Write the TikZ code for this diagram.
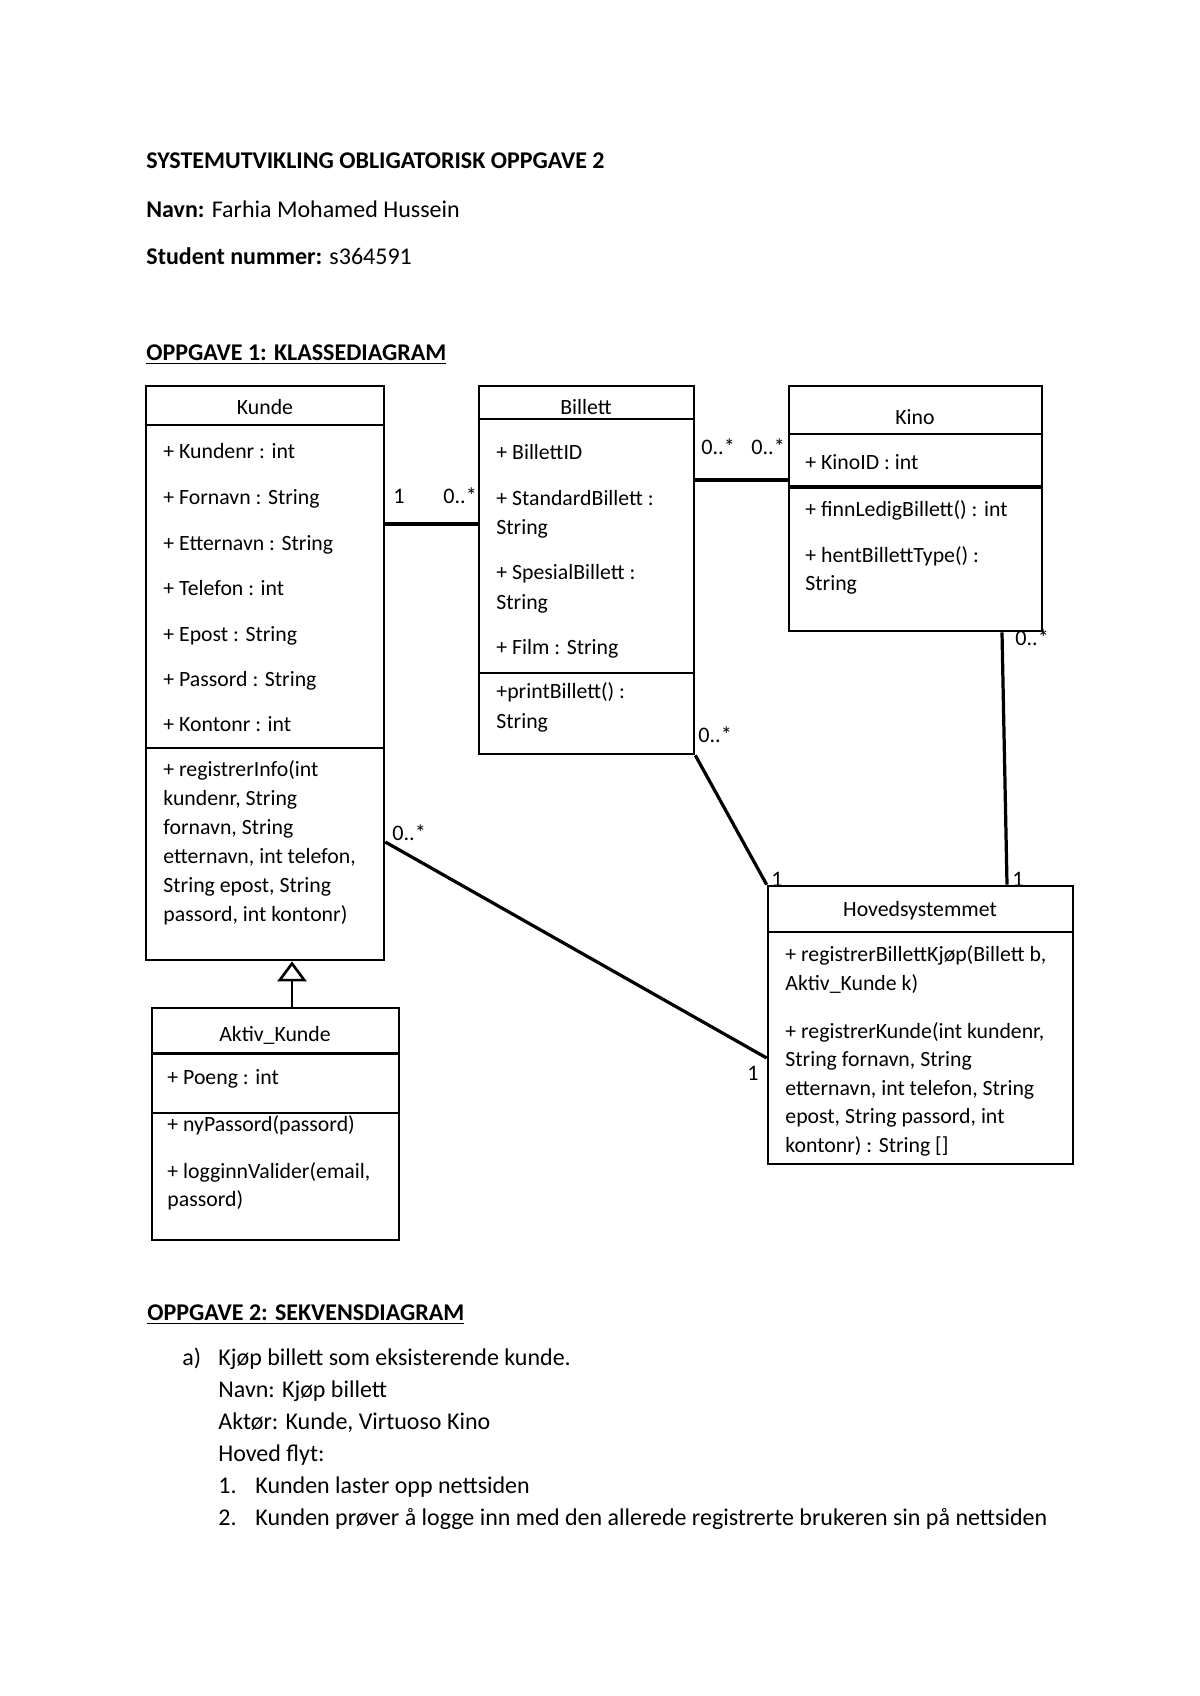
\documentclass[tikz,border=0pt]{standalone}
\usepackage{fontspec}
\setmainfont{Carlito}
\usetikzlibrary{arrows.meta,fit}
\begin{document}
\begin{tikzpicture}[x=0.49607pt,y=-0.49607pt,
  classbox/.style={draw,line width=1.3pt,inner sep=0pt},
  sepline/.style={line width=1pt},
  thicksep/.style={line width=1.5pt},
  attr/.style={anchor=base west,inner sep=0pt,font=\fontsize{10.8}{13}\selectfont},
  ctitle/.style={anchor=base,inner sep=0pt,font=\fontsize{10.8}{13}\selectfont},
  mult/.style={anchor=base west,inner sep=0pt,font=\fontsize{11}{13}\selectfont},
  assoc/.style={line width=1.6pt},
  gen/.style={line width=1.3pt,-{Triangle[open,length=10pt,width=14.5pt,line width=1.3pt]}},
  head/.style={anchor=base west,inner sep=0pt,font=\fontsize{11.9}{14}\selectfont}]
\fill[white] (0,0) rectangle (1200,1696);
\useasboundingbox (0,0) rectangle (1200,1696);

% header texts
\node[head] (title) at (146,168) {\textbf{SYSTEMUTVIKLING OBLIGATORISK OPPGAVE 2}};
\node[head] (navn) at (146,217) {\textbf{Navn:} Farhia Mohamed Hussein};
\node[head] (stud) at (146,264) {\textbf{Student nummer:} s364591};
\node[head] (opp1) at (146,360) {\textbf{\underline{OPPGAVE 1: KLASSEDIAGRAM}}};

% Kunde
\node[classbox,fit={(146,386) (384,960)}] (kunde) {};
\draw[sepline] (kunde.west |- 0,425) -- (kunde.east |- 0,425);
\draw[sepline] (kunde.west |- 0,748) -- (kunde.east |- 0,748);
\node[ctitle] (kundeT) at (265,414) {Kunde};
\foreach \t/\y [count=\i] in {{+ Kundenr : int}/458,{+ Fornavn : String}/504,{+ Etternavn : String}/550,{+ Telefon : int}/595,{+ Epost : String}/641,{+ Passord : String}/686,{+ Kontonr : int}/731,{+ registrerInfo(int}/776,{kundenr, String}/805,{fornavn, String}/834,{etternavn, int telefon,}/863,{String epost, String}/892,{passord, int kontonr)}/921}
  \node[attr] (ka\i) at (163,\y) {\t};

% Billett
\node[classbox,fit={(479,386) (694,754)}] (billett) {};
\draw[sepline] (billett.west |- 0,419) -- (billett.east |- 0,419);
\draw[sepline] (billett.west |- 0,673) -- (billett.east |- 0,673);
\node[ctitle] (billettT) at (586,414) {Billett};
\foreach \t/\y [count=\i] in {{+ BillettID}/459,{+ StandardBillett :}/505,{String}/534,{+ SpesialBillett :}/579,{String}/609,{+ Film : String}/654,{+printBillett() :}/698,{String}/728}
  \node[attr] (ba\i) at (496,\y) {\t};

% Kino
\node[classbox,fit={(789,386) (1042,631)}] (kino) {};
\draw[sepline] (kino.west |- 0,434) -- (kino.east |- 0,434);
\draw[thicksep] (kino.west |- 0,487) -- (kino.east |- 0,487);
\node[ctitle] (kinoT) at (915,424) {Kino};
\foreach \t/\y [count=\i] in {{+ KinoID : int}/469,{+ finnLedigBillett() : int}/516,{+ hentBillettType() :}/562,{String}/590}
  \node[attr] (kia\i) at (805,\y) {\t};

% Hovedsystemmet
\node[classbox,fit={(768,886) (1073,1164)}] (hoved) {};
\draw[sepline] (hoved.west |- 0,932) -- (hoved.east |- 0,932);
\node[ctitle] (hovedT) at (920,916) {Hovedsystemmet};
\foreach \t/\y [count=\i] in {{+ registrerBillettKjøp(Billett b,}/961,{Aktiv\_Kunde k)}/990,{+ registrerKunde(int kundenr,}/1038,{String fornavn, String}/1066,{etternavn, int telefon, String}/1095,{epost, String passord, int}/1123,{kontonr) : String []}/1152}
  \node[attr] (ha\i) at (785,\y) {\t};

% Aktiv_Kunde
\node[classbox,fit={(152,1008) (399,1240)}] (aktiv) {};
\draw[thicksep] (aktiv.west |- 0,1053) -- (aktiv.east |- 0,1053);
\draw[sepline] (aktiv.west |- 0,1113) -- (aktiv.east |- 0,1113);
\node[ctitle] (aktivT) at (275,1041) {Aktiv\_Kunde};
\foreach \t/\y [count=\i] in {{+ Poeng : int}/1084,{+ nyPassord(passord)}/1131,{+ logginnValider(email,}/1178,{passord)}/1206}
  \node[attr] (aa\i) at (167,\y) {\t};

% connectors
\draw[gen] (292,0 |- aktiv.north) -- (292,0 |- kunde.south);
\draw[assoc] (kunde.east |- 0,524) -- (billett.west |- 0,524);
\draw[assoc] (billett.east |- 0,480) -- (kino.west |- 0,480);
\draw[assoc] (kunde.east |- 0,842) -- (hoved.west |- 0,1058);
\draw[assoc] (billett.south east) -- (hoved.north west);
\draw[assoc] (1002,0 |- kino.south) -- (1007,0 |- hoved.north);

% multiplicities
\node[mult] (m1) at (393,503) {1};
\node[mult] (m2) at (443,503) {0..*};
\node[mult] (m3) at (701,454) {0..*};
\node[mult] (m4) at (751,454) {0..*};
\node[mult] (m5) at (1015,645) {0..*};
\node[mult] (m6) at (698,742) {0..*};
\node[mult] (m7) at (771,886) {1};
\node[mult] (m8) at (1012,886) {1};
\node[mult] (m9) at (392,840) {0..*};
\node[mult] (m10) at (747,1080) {1};

% Oppgave 2
\node[head] (opp2) at (147,1320) {\textbf{\underline{OPPGAVE 2: SEKVENSDIAGRAM}}};
\node[head] (la) at (182,1365) {a)};
\node[head] (l1) at (218,1365) {Kjøp billett som eksisterende kunde.};
\node[head] (l2) at (218,1397) {Navn: Kjøp billett};
\node[head] (l3) at (218,1429) {Aktør: Kunde, Virtuoso Kino};
\node[head] (l4) at (218,1461) {Hoved flyt:};
\node[head] (n1) at (218,1493) {1.};
\node[head] (l5) at (255,1493) {Kunden laster opp nettsiden};
\node[head] (n2) at (218,1525) {2.};
\node[head] (l6) at (255,1525) {Kunden prøver å logge inn med den allerede registrerte brukeren sin på nettsiden};
\end{tikzpicture}
\end{document}
